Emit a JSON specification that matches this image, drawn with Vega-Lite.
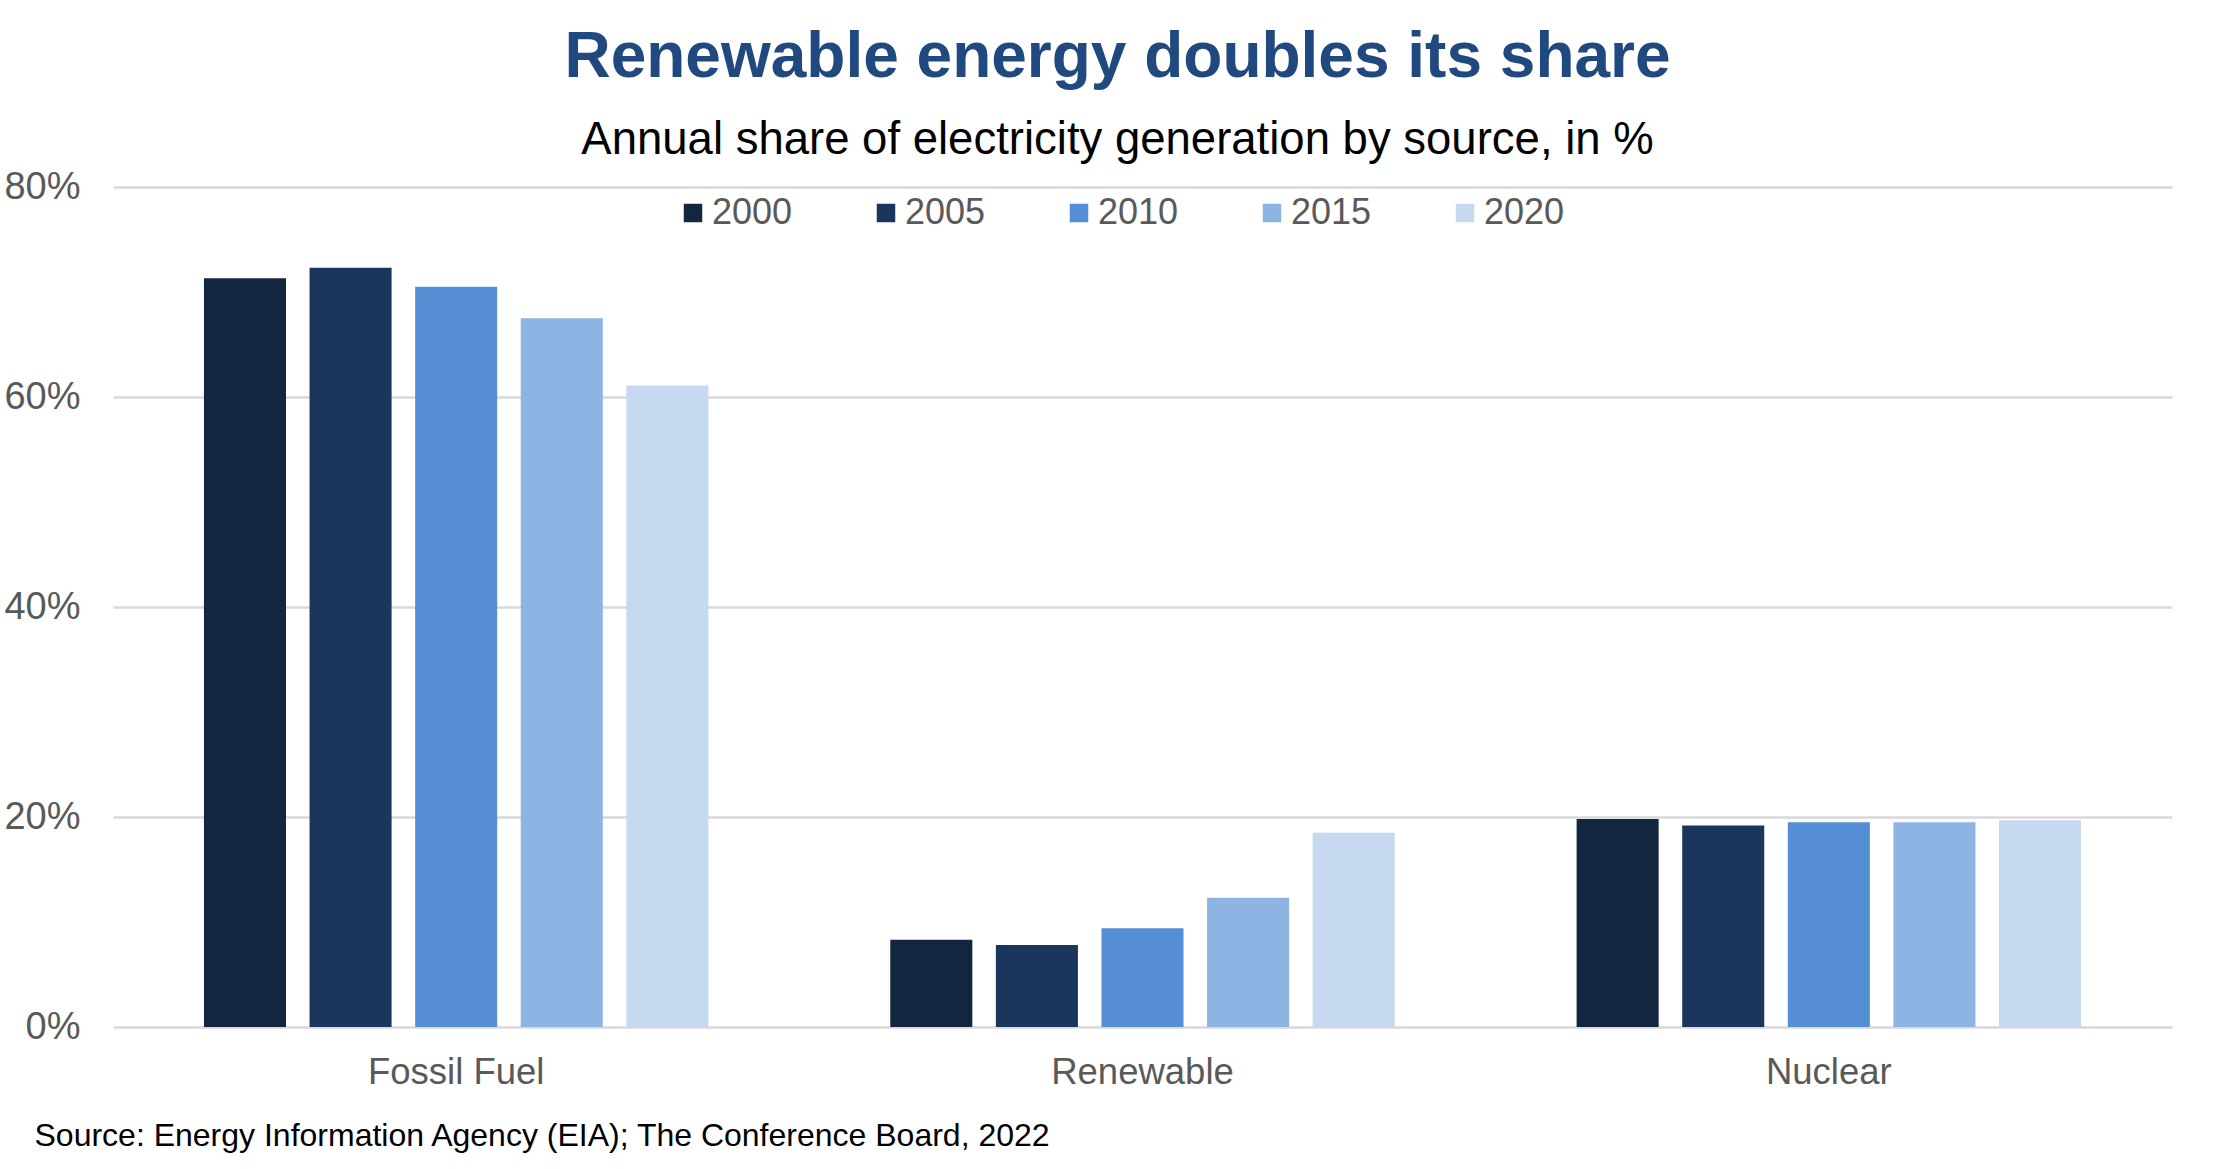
{
  "$schema": "https://vega.github.io/schema/vega-lite/v6.json",
  "autosize": "none",
  "width": 2059,
  "height": 840,
  "padding": {"left": 113, "top": 187, "right": 41, "bottom": 142},
  "title": {
    "text": "Renewable energy doubles its share",
    "subtitle": "Annual share of electricity generation by source, in %",
    "fontSize": 64,
    "fontWeight": "bold",
    "color": "#20497f",
    "subtitleFontSize": 45.5,
    "subtitleColor": "black",
    "subtitlePadding": 28,
    "anchor": "middle",
    "offset": 5,
    "dx": -25
  },
  "data": {
    "values": [
      {"source": "Fossil Fuel", "year": "2000", "share": 71.3},
      {"source": "Fossil Fuel", "year": "2005", "share": 72.3},
      {"source": "Fossil Fuel", "year": "2010", "share": 70.5},
      {"source": "Fossil Fuel", "year": "2015", "share": 67.5},
      {"source": "Fossil Fuel", "year": "2020", "share": 61.1},
      {"source": "Renewable", "year": "2000", "share": 8.3},
      {"source": "Renewable", "year": "2005", "share": 7.8},
      {"source": "Renewable", "year": "2010", "share": 9.4},
      {"source": "Renewable", "year": "2015", "share": 12.3},
      {"source": "Renewable", "year": "2020", "share": 18.5},
      {"source": "Nuclear", "year": "2000", "share": 19.8},
      {"source": "Nuclear", "year": "2005", "share": 19.2},
      {"source": "Nuclear", "year": "2010", "share": 19.5},
      {"source": "Nuclear", "year": "2015", "share": 19.5},
      {"source": "Nuclear", "year": "2020", "share": 19.7}
    ]
  },
  "mark": {"type": "bar"},
  "encoding": {
    "x": {
      "field": "source", "type": "nominal",
      "sort": ["Fossil Fuel", "Renewable", "Nuclear"],
      "scale": {"paddingInner": 0.265, "paddingOuter": 0.1325},
      "title": "Source: Energy Information Agency (EIA); The Conference Board, 2022",
      "axis": {
        "labelAngle": 0, "domain": false, "ticks": false, "labelLimit": 0,
        "labelPadding": 27, "labelFontSize": 36.5, "labelColor": "#595959",
        "titleFontSize": 32, "titleFontWeight": "normal", "titleColor": "black",
        "titleX": -79, "titleY": 118, "titleAlign": "left", "titleAnchor": "start",
        "titleBaseline": "alphabetic"
      }
    },
    "xOffset": {
      "field": "year", "type": "nominal",
      "scale": {"paddingInner": 0.223, "paddingOuter": 0}
    },
    "y": {
      "field": "share", "type": "quantitative",
      "scale": {"domain": [0, 80]},
      "axis": {
        "title": null, "values": [0, 20, 40, 60, 80],
        "labelExpr": "datum.value + '%'",
        "domain": false, "ticks": false, "labelPadding": 33,
        "labelFontSize": 38, "labelColor": "#595959",
        "gridColor": "#d9d9d9", "gridWidth": 2.5
      }
    },
    "color": {
      "field": "year", "type": "nominal",
      "scale": {"range": ["#132640", "#1a365d", "#558ed5", "#8eb4e3", "#c6d9f1"]},
      "legend": {
        "title": null, "orient": "none", "direction": "horizontal",
        "legendX": 562, "legendY": 8, "padding": 0,
        "symbolType": "square", "symbolSize": 342, "symbolStrokeWidth": 0,
        "labelFontSize": 36, "labelColor": "#595959", "labelOffset": 1,
        "columnPadding": 75
      }
    }
  },
  "config": {
    "font": "Liberation Sans",
    "view": {"stroke": null}
  }
}
